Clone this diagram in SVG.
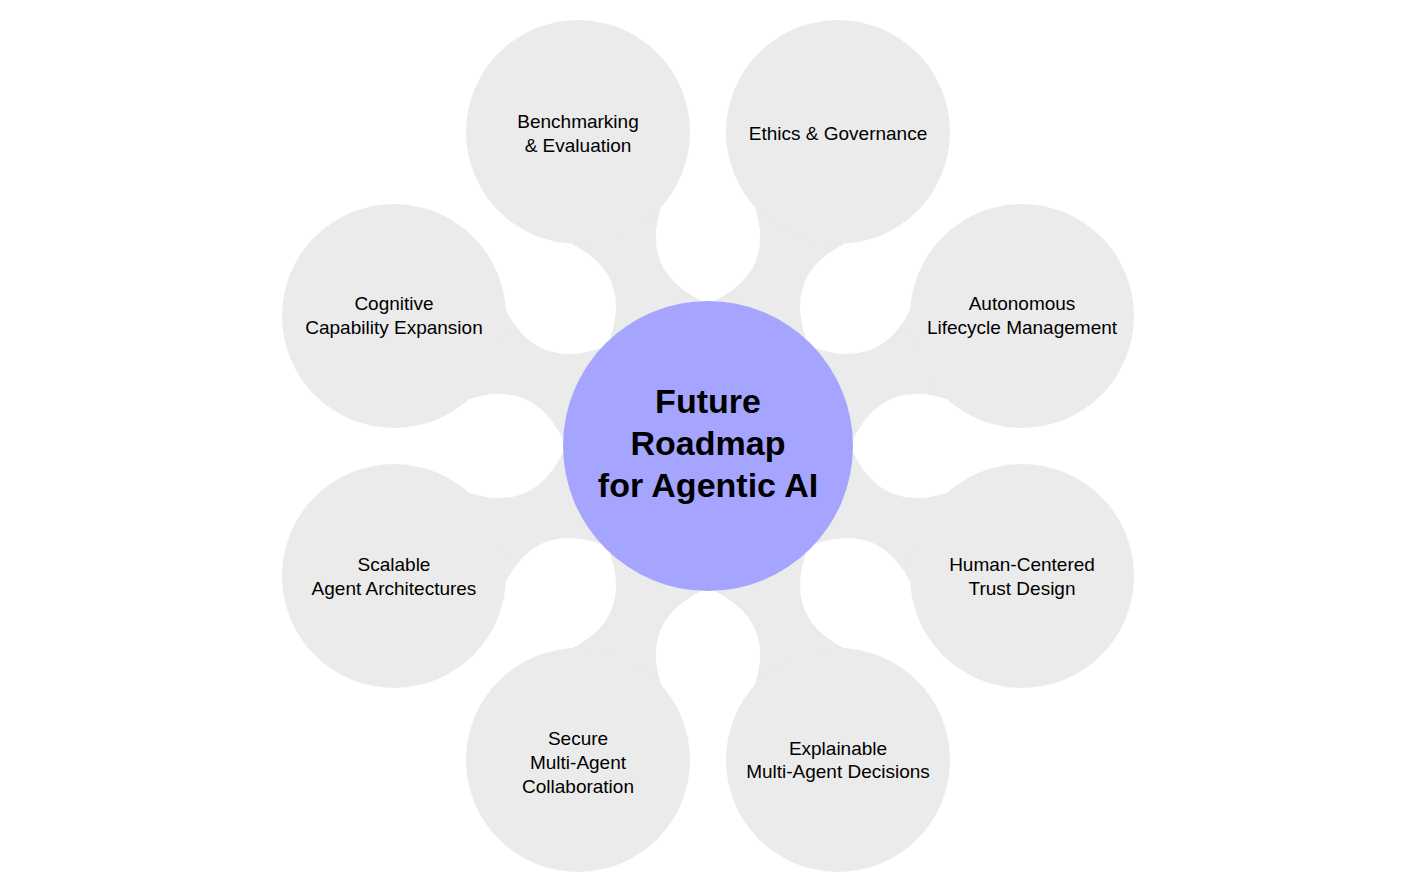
<svg xmlns="http://www.w3.org/2000/svg" width="1424" height="896" viewBox="0 0 1424 896">
<style>
.sat{fill:#ebebeb}
.br{fill:#ebebeb}
.t{font-family:"Liberation Sans",Arial,sans-serif;font-size:19px;text-anchor:middle;fill:#000}
.c{font-family:"Liberation Sans",Arial,sans-serif;font-size:34px;font-weight:bold;text-anchor:middle;fill:#000}
</style>
<defs>
<path id="bridge" d="M136.3,-49.7 Q188,-4 239.2,-48.7 L239.2,48.7 Q188,4 136.3,49.7 Z"/>
</defs>
<rect width="1424" height="896" fill="#fff"/>
<g id="connectors" class="br" transform="translate(708,446)">
<use href="#bridge" transform="rotate(-112.5)"/>
<use href="#bridge" transform="rotate(-67.5)"/>
<use href="#bridge" transform="rotate(-22.5)"/>
<use href="#bridge" transform="rotate(22.5)"/>
<use href="#bridge" transform="rotate(67.5)"/>
<use href="#bridge" transform="rotate(112.5)"/>
<use href="#bridge" transform="rotate(157.5)"/>
<use href="#bridge" transform="rotate(-157.5)"/>
</g>
<g id="center"><circle cx="708" cy="446" r="145" fill="#a5a5ff"/>
<text class="c" x="708" y="413">Future</text><text class="c" x="708" y="455">Roadmap</text><text class="c" x="708" y="497">for Agentic AI</text></g>
<g id="n1"><circle class="sat" cx="578" cy="132" r="112"/><text class="t" x="578" y="128">Benchmarking</text><text class="t" x="578" y="152">&amp; Evaluation</text></g>
<g id="n2"><circle class="sat" cx="838" cy="132" r="112"/><text class="t" x="838" y="140">Ethics &amp; Governance</text></g>
<g id="n3"><circle class="sat" cx="1022" cy="316" r="112"/><text class="t" x="1022" y="310">Autonomous</text><text class="t" x="1022" y="334">Lifecycle Management</text></g>
<g id="n4"><circle class="sat" cx="1022" cy="576" r="112"/><text class="t" x="1022" y="571">Human-Centered</text><text class="t" x="1022" y="595">Trust Design</text></g>
<g id="n5"><circle class="sat" cx="838" cy="760" r="112"/><text class="t" x="838" y="755">Explainable</text><text class="t" x="838" y="778">Multi-Agent Decisions</text></g>
<g id="n6"><circle class="sat" cx="578" cy="760" r="112"/><text class="t" x="578" y="745">Secure</text><text class="t" x="578" y="769">Multi-Agent</text><text class="t" x="578" y="793">Collaboration</text></g>
<g id="n7"><circle class="sat" cx="394" cy="576" r="112"/><text class="t" x="394" y="571">Scalable</text><text class="t" x="394" y="595">Agent Architectures</text></g>
<g id="n8"><circle class="sat" cx="394" cy="316" r="112"/><text class="t" x="394" y="310">Cognitive</text><text class="t" x="394" y="334">Capability Expansion</text></g>
</svg>
